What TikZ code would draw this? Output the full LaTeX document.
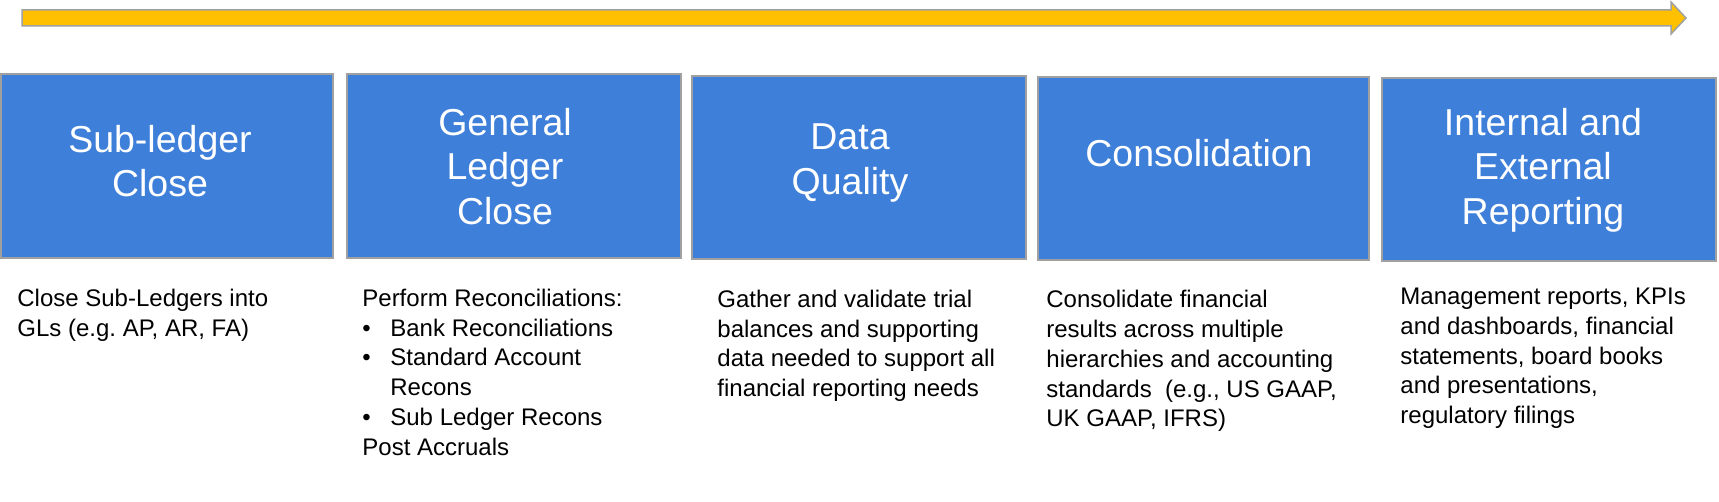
\documentclass[tikz,border=0pt]{standalone}
\usepackage{fontspec}
\setmainfont{Liberation Sans}
\usepackage{tikz}
\frenchspacing
\definecolor{phaseblue}{HTML}{3E7FDA}
\definecolor{phaseedge}{HTML}{A0A0A0}
\definecolor{arrowgold}{HTML}{FFC000}
\newcommand{\bulletline}[1]{\makebox[14pt][l]{\textbullet}#1}
\begin{document}
\begin{tikzpicture}[x=0.5pt,y=-0.5pt,
  phasebox/.style={draw=phaseedge,line width=1pt,fill=phaseblue,inner sep=0pt},
  phasetitle/.style={text=white,align=center,font=\fontsize{18.75}{22.3}\selectfont},
  phasenote/.style={anchor=north west,inner sep=0pt,align=left,font=\fontsize{12}{14.9}\selectfont}]
\useasboundingbox (0,0) rectangle (1719,502);
\draw[draw=phaseedge,line width=0.75pt,fill=arrowgold] (22,10) -- (1671,10) -- (1671,2) -- (1686,18) -- (1671,34) -- (1671,26) -- (22,26) -- cycle;

\node[phasebox,minimum width=166pt,minimum height=92pt] (subledger) at (167,166) {};
\node[phasebox,minimum width=167pt,minimum height=92pt] (genledger) at (514,166) {};
\node[phasebox,minimum width=167pt,minimum height=91.5pt] (dataquality) at (859,167.5) {};
\node[phasebox,minimum width=165.5pt,minimum height=91.5pt] (consolidation) at (1203.5,168.5) {};
\node[phasebox,minimum width=167pt,minimum height=91.5pt] (reporting) at (1549,169.5) {};

\node[phasetitle] (subledgertitle) at (160,161) {Sub-ledger\\Close};
\node[phasetitle] (genledgertitle) at (505,166.5) {General\\Ledger\\Close};
\node[phasetitle] (dataqualitytitle) at (850,163) {Data\\Quality};
\node[phasetitle] (consolidationtitle) at (1199,153) {Consolidation};
\node[phasetitle] (reportingtitle) at (1543,170) {Internal and\\External\\Reporting};

\node[phasenote] (subledgernote) at (17,288.5) {Close Sub-Ledgers into\\GLs (e.g. AP, AR, FA)};
\node[phasenote] (genledgernote) at (362,288.5) {Perform Reconciliations:\\
\bulletline{Bank Reconciliations}\\
\bulletline{Standard Account}\\
\hspace*{14pt}Recons\\
\bulletline{Sub Ledger Recons}\\
Post Accruals};
\node[phasenote] (dataqualitynote) at (717,289.5) {Gather and validate trial\\balances and supporting\\data needed to support all\\financial reporting needs};
\node[phasenote] (consolidationnote) at (1046,290) {Consolidate financial\\results across multiple\\hierarchies and accounting\\standards\ \ (e.g., US GAAP,\\UK GAAP, IFRS)};
\node[phasenote] (reportingnote) at (1400,287.5) {Management reports, KPIs\\and dashboards, financial\\statements, board books\\and presentations,\\regulatory filings};
\end{tikzpicture}
\end{document}
